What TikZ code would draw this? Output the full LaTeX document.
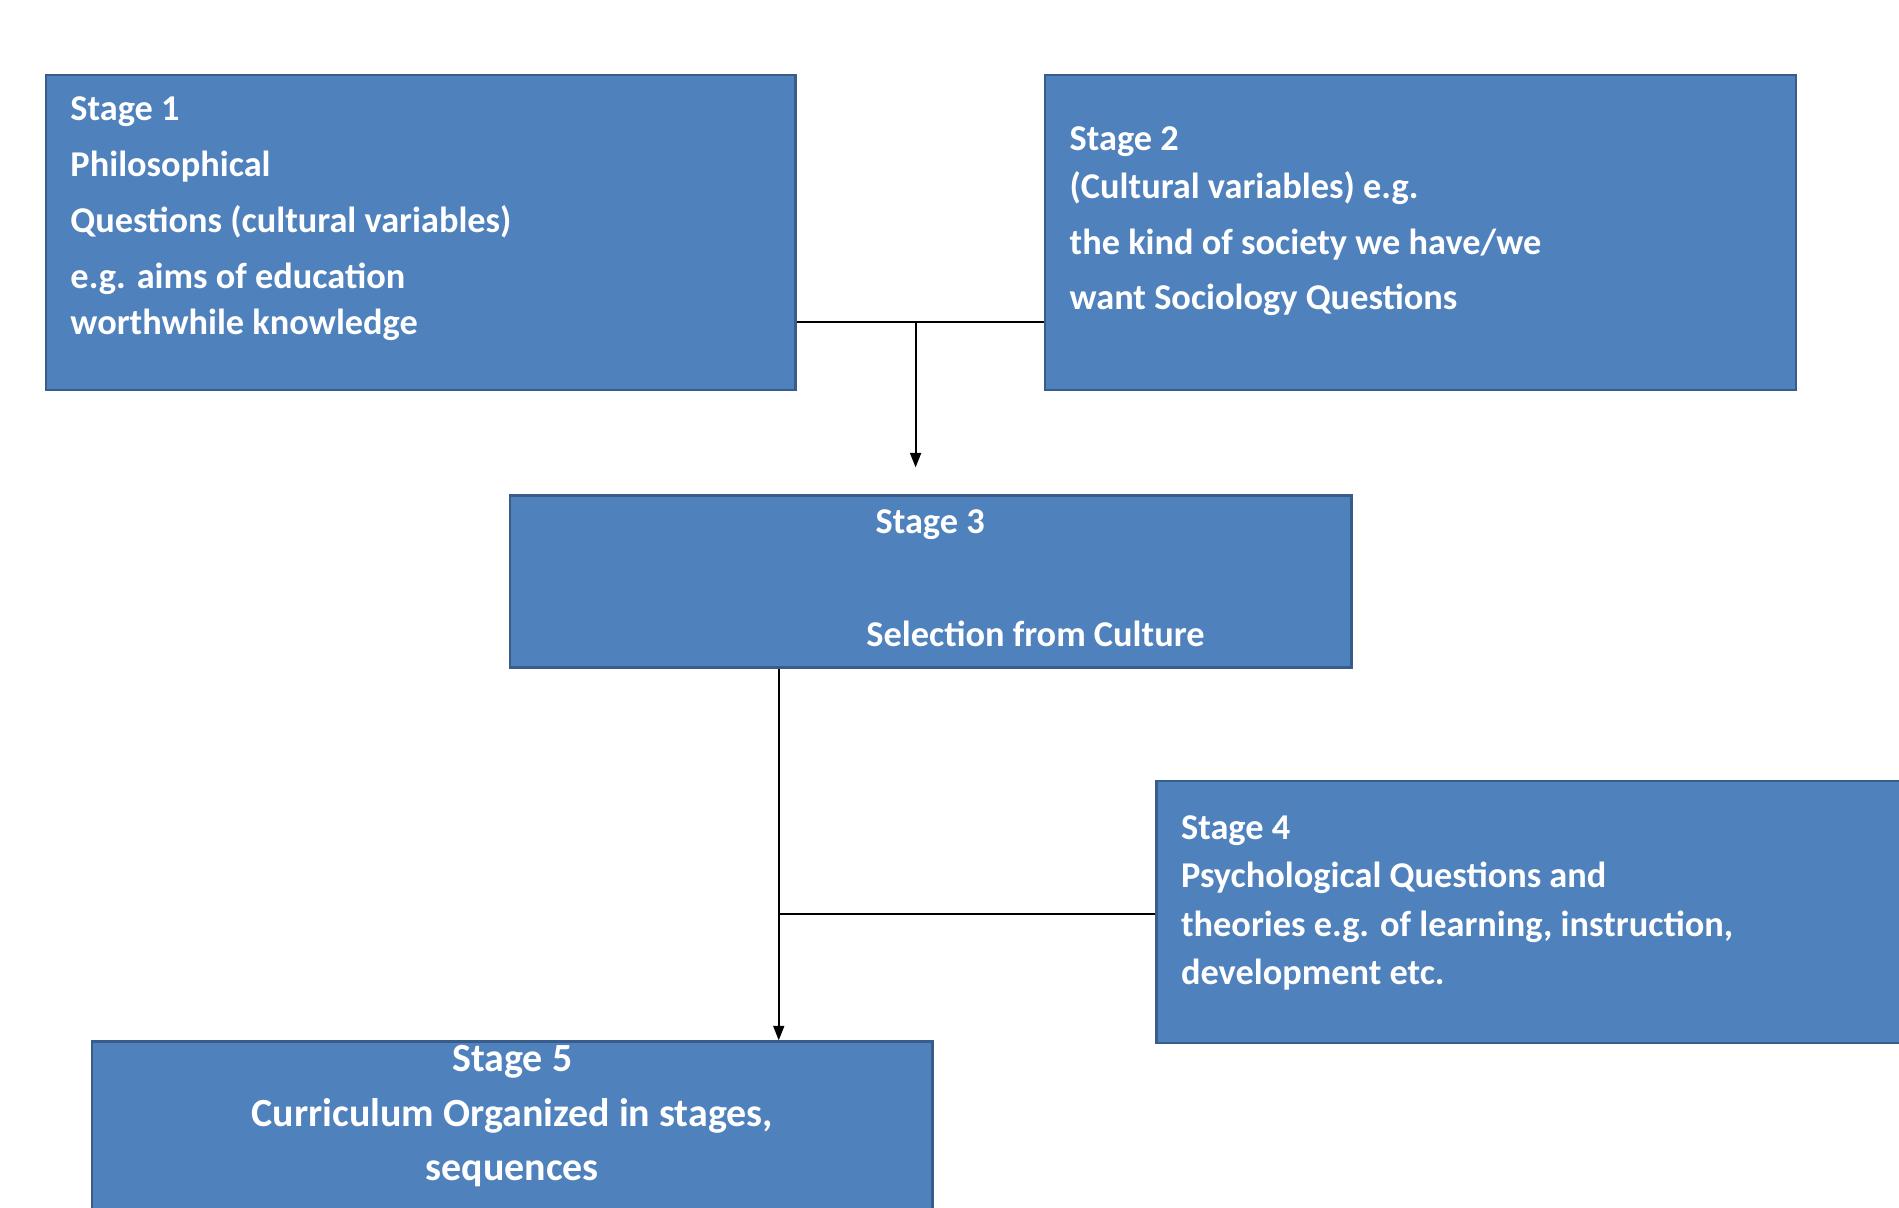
\documentclass[tikz,border=0pt]{standalone}
\usepackage{fontspec}
\setmainfont{Carlito}
\usetikzlibrary{arrows.meta}
\definecolor{boxfill}{HTML}{4F81BD}
\definecolor{boxline}{HTML}{385D8A}
\begin{document}
\begin{tikzpicture}[x=1pt,y=-1pt,
  box/.style={draw=boxline,line width=2pt,fill=boxfill,inner sep=0},
  txt/.style={text=white,font=\bfseries\fontsize{30}{46}\selectfont,inner sep=0,anchor=north west,align=left},
  conn/.style={line width=1.6pt,black},
  arr/.style={conn,-{Triangle[length=12pt,width=9pt]}}]
\useasboundingbox (0,0) rectangle (1568,997);
\fill[white] (0,0) rectangle (1568,997);
\draw[box] (38,62) rectangle (657,322) coordinate (b1se);
\node[box,minimum width=619,minimum height=260,draw=none,fill=none] (b1) at (347.5,192) {};
\node[box,minimum width=620,minimum height=260,draw=none,fill=none] (b2) at (1173,192) {};
\draw[box] (863,62) rectangle (1483,322);
\node[box,minimum width=695,minimum height=142,draw=none,fill=none] (b3) at (768.5,480) {};
\draw[box] (421,409) rectangle (1116,551);
\node[box,minimum width=620,minimum height=216,draw=none,fill=none] (b4) at (1265,753) {};
\draw[box] (955,645) rectangle (1575,861);
\node[box,minimum width=694,minimum height=150,draw=none,fill=none] (b5) at (423,935) {};
\draw[box] (76,860) rectangle (770,1010);

\node[txt] (t1) at (58,80) {Stage 1\\Philosophical\\Questions (cultural variables)\\e.g. aims of education\\[-8pt]worthwhile knowledge};
\node[txt,font=\bfseries\fontsize{30}{46}\selectfont] (t2) at (883,104) {Stage 2\\[-6pt](Cultural variables) e.g.\\ the kind of society we have/we\\want Sociology Questions};
\node[txt,anchor=center] (t3a) at (768,433) {Stage 3};
\node[txt,anchor=center] (t3b) at (855,523) {Selection from Culture};
\node[txt,font=\bfseries\fontsize{30}{40}\selectfont] (t4) at (975,673) {Stage 4\\Psychological Questions and\\theories e.g. of learning, instruction,\\development etc.};
\node[txt,anchor=north,align=center,font=\bfseries\fontsize{33}{45}\selectfont] (t5) at (423,863) {Stage 5\\Curriculum Organized in stages,\\sequences};

\coordinate (j1) at (756,266);
\coordinate (j2) at (643,755);
\draw[conn] (b1.east |- j1) -- (b2.west |- j1);
\draw[arr] (j1) -- (756,386);
\draw[arr] (b3.south -| j2) -- (b5.north -| j2);
\draw[conn] (j2) -- (b4.west |- j2);
\end{tikzpicture}
\end{document}
